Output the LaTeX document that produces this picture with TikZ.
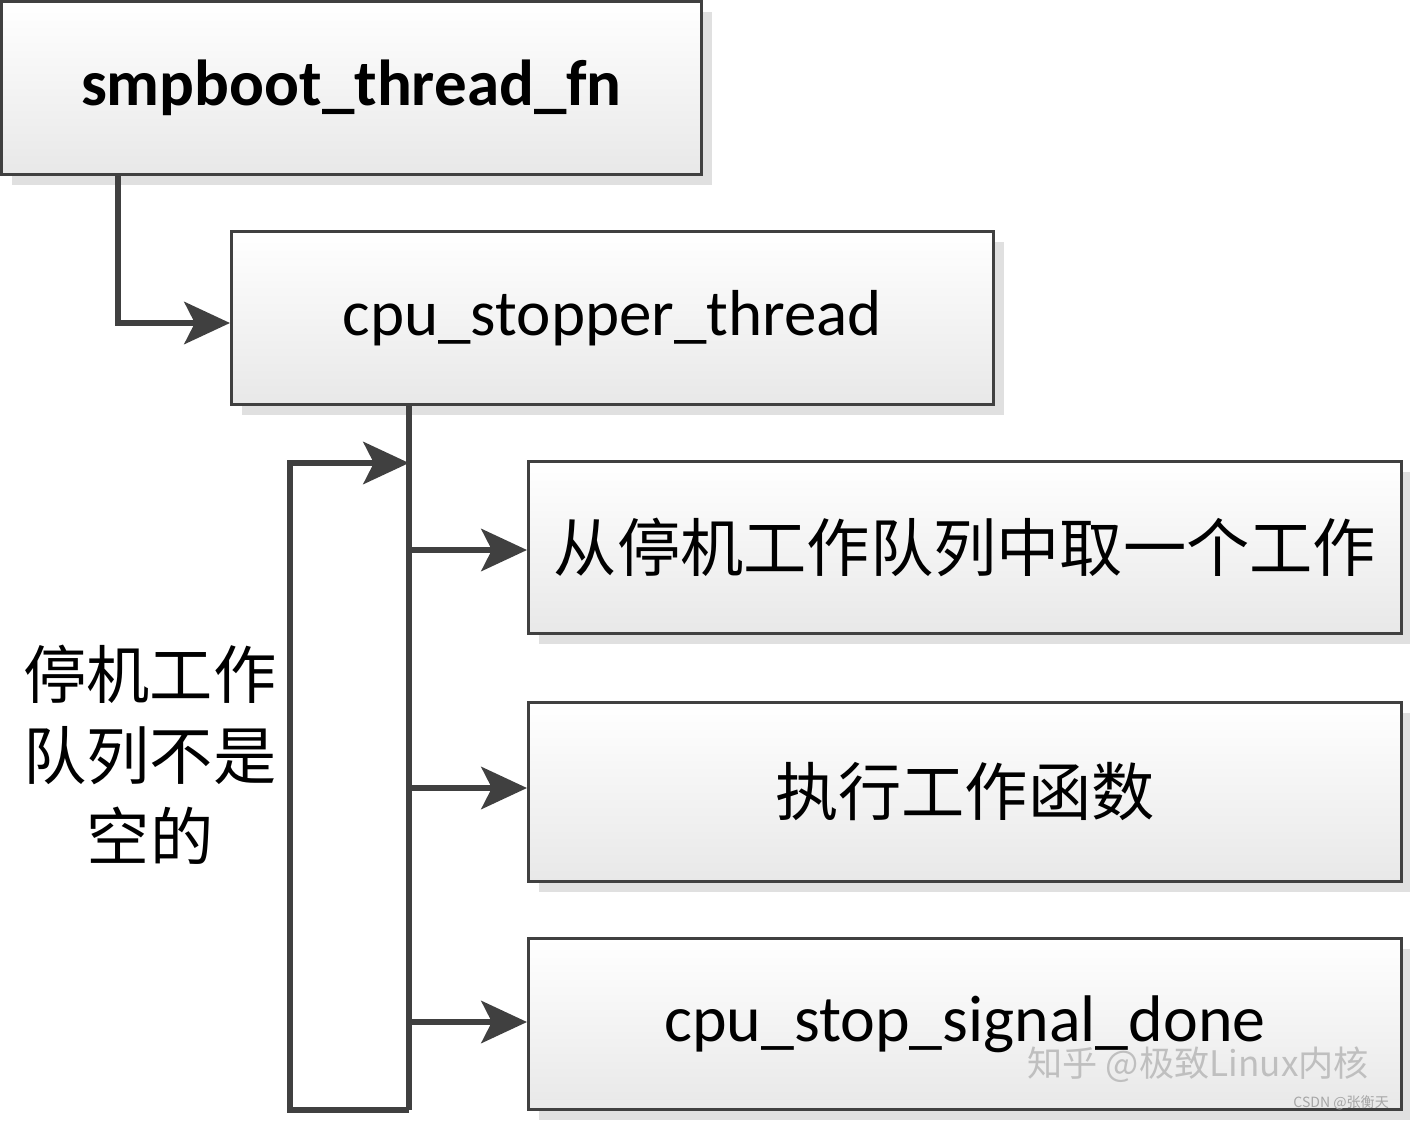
\documentclass[tikz,border=0pt]{standalone}
\usepackage{fontspec}
\setmainfont{Carlito}
\newfontfamily\cjk{Noto Sans CJK SC}
\usetikzlibrary{arrows.meta}
\definecolor{ln}{HTML}{404040}
\tikzset{
 box/.style={draw=ln,line width=1.6pt,top color=white,bottom color=black!9,anchor=north west,inner sep=0pt},
 conn/.style={draw=ln,line width=3.4pt},
 arr/.style={conn,-{Stealth[length=26pt,width=24pt,inset=6pt]}},
}
\newcommand{\mybox}[6]{%
 \fill[black!12] (#1+12,#2+12) rectangle (#3+12,#4+12);
 \node[box,minimum width={(#3-#1)*0.02cm},minimum height={(#4-#2)*0.02cm}] (#5) at (#1,#2) {};
 \node at (#5.center) {#6};}
\begin{document}
\begin{tikzpicture}[x=0.02cm,y=-0.02cm]
\useasboundingbox (0,0) rectangle (1410,1123);
\mybox{0}{0}{700}{173}{a}{\fontsize{37}{42}\selectfont\bfseries smpboot\_thread\_fn}
\mybox{230}{230}{992}{403}{b}{\fontsize{37}{42}\selectfont cpu\_stopper\_thread}
\mybox{527}{460}{1400}{632}{c}{\cjk\fontsize{36}{44}\selectfont 从停机工作队列中取一个工作}
\mybox{527}{701}{1400}{880}{d}{\cjk\fontsize{36}{44}\selectfont 执行工作函数}
\mybox{527}{937}{1400}{1108}{e}{\fontsize{37.5}{42}\selectfont cpu\_stop\_signal\_done}
\coordinate (a1) at (118,173);
\coordinate (a2) at (118,323);
\draw[arr] (a1) -- (a2) -- (b.west|-a2);
\coordinate (t) at (409,403);
\coordinate (bt) at (409,1110);
\coordinate (bl) at (290,1110);
\coordinate (tl) at (290,463);
\coordinate (tr) at (409,463);
\draw[conn] (t) -- (bt);
\draw[arr] (bt) -- (bl) -- (tl) -- (tr);
\coordinate (j1) at (409,550); \draw[arr] (j1) -- (c.west|-j1);
\coordinate (j2) at (409,788); \draw[arr] (j2) -- (d.west|-j2);
\coordinate (j3) at (409,1022); \draw[arr] (j3) -- (e.west|-j3);
\node[align=center,font=\cjk\fontsize{36}{46}\selectfont] (lbl) at (150,755) {停机工作\\队列不是\\空的};
\node[anchor=east,text=black!25,font=\cjk\fontsize{20}{24}\selectfont] (w1) at (1375,1065) {知乎 @极致Linux内核};
\node[anchor=east,text=black!35,font=\cjk\fontsize{8}{10}\selectfont] (w2) at (1395,1103) {CSDN @张衡天};
\end{tikzpicture}
\end{document}
